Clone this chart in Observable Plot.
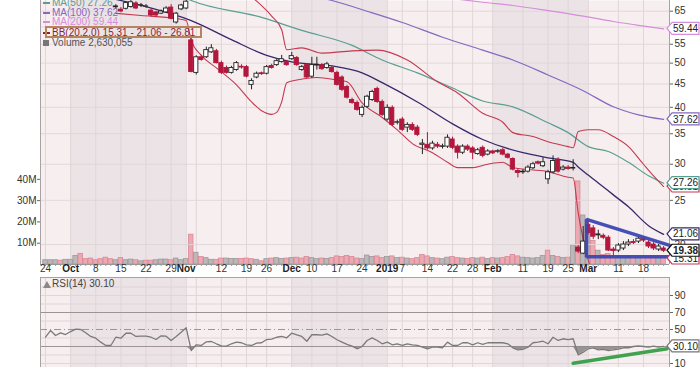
<!DOCTYPE html>
<html><head><meta charset="utf-8">
<script src="https://cdn.jsdelivr.net/npm/d3@7"></script>
<script src="https://cdn.jsdelivr.net/npm/@observablehq/plot@0.6"></script>
<style>
body{margin:0;background:#fff;}
#wrap{position:relative;width:700px;height:367px;overflow:hidden;background:#fff;font-family:"Liberation Sans",Arial,sans-serif;}
#wrap > svg{position:absolute;left:0;}
.leg{position:absolute;font-size:10px;line-height:10px;white-space:nowrap;}
.ico{position:absolute;}
</style></head><body><div id="wrap"></div><script>
// ---------- DATA ----------
const startIdx = 14; // first visible candle (trading-day index, 0 = Sep 24 2018)
const open = [66.3,65.5,65.8,66.4,67.6,66.9,66.5,65.2,64.6,64.2,
64.6,66.2,61.4,65.6,65.9,56.1,47.6,51.5,51.5,52.8,
53.1,50.0,48.8,47.6,48.3,49.1,49.0,44.8,46.5,47.5,
47.4,49.3,49.5,50.3,50.3,51.0,51.3,48.3,49.5,46.7,
49.4,49.5,48.8,48.8,47.6,46.5,44.3,41.5,40.9,38.5,
40.1,41.5,43.9,41.1,37.6,39.9,37.0,37.6,36.1,36.6,
36.1,33.1,33.1,32.5,33.1,32.75,32.8,34.0,32.8,31.8,
32.8,32.5,31.6,32.6,31.5,32.0,31.95,32.2,31.5,30.8,
29.0,28.8,28.9,29.4,30.3,29.7,27.8,28.8,30.7,29.2,
29.5,29.35,19.7,19.1,22.1,21.7,20.95,20.9,20.7,19.5,
19.4,19.6,20.0,20.25,20.3,20.55,20.2,20.0,19.5,19.6];
const high = [67.2,66.2,68.2,68.6,68.2,67.6,67.2,65.8,65.0,65.4,
66.5,67.2,64.6,67.3,68.6,56.7,51.9,52.0,54.2,54.9,
53.6,50.5,49.3,49.2,50.4,49.6,49.4,46.2,47.8,47.8,
49.4,49.7,50.9,52.0,50.7,52.8,51.7,49.4,49.9,51.5,
51.5,49.9,50.2,49.2,48.0,46.9,44.7,41.9,41.3,40.3,
42.5,43.6,44.3,41.5,40.5,40.3,37.5,38.0,37.0,37.0,
36.5,34.0,35.2,33.7,33.5,33.2,34.8,34.4,33.1,33.1,
33.1,32.8,32.5,32.9,32.3,32.2,32.3,32.5,31.7,31.0,
29.3,29.2,29.8,30.3,30.5,31.0,29.1,31.3,31.0,29.8,
29.8,30.7,19.9,21.9,22.5,22.0,21.5,21.1,20.9,19.7,
20.1,20.3,20.5,20.5,20.8,20.8,20.4,20.2,20.0,19.8];
const low = [65.6,64.5,65.4,66.0,65.5,66.2,66.0,63.2,63.0,63.9,
64.3,62.2,60.9,65.2,65.5,47.6,47.1,50.5,51.2,52.5,
49.8,47.2,47.3,47.3,48.0,48.5,46.4,43.7,46.2,47.0,
47.1,48.5,49.2,50.0,49.2,50.7,49.2,48.0,46.2,46.3,
48.3,48.2,48.5,47.5,44.5,43.3,41.7,40.6,39.2,38.0,
39.8,41.2,40.8,38.2,37.3,36.3,36.6,35.4,35.2,35.4,
34.5,31.5,32.2,32.2,32.5,32.4,32.5,32.3,30.8,31.5,
32.0,30.7,31.4,31.0,31.3,31.5,31.7,31.3,30.8,29.0,
28.0,28.5,28.7,29.2,29.9,29.5,27.1,28.6,28.7,29.0,
29.1,29.0,19.1,19.0,21.0,20.5,20.5,20.5,19.3,18.8,
19.2,19.4,19.8,20.0,20.1,20.2,19.6,19.4,19.3,19.2];
const close = [66.6,64.9,67.7,68.0,65.9,67.0,66.6,63.6,63.6,64.9,
65.9,62.6,64.2,66.9,68.2,47.8,51.5,50.8,53.4,53.9,
50.0,47.6,47.6,48.8,50.0,48.9,46.7,45.7,47.4,47.3,
49.0,48.8,50.5,51.0,49.5,51.8,49.5,49.0,46.5,49.5,
49.6,48.5,49.7,47.8,44.8,43.7,42.0,40.9,39.5,39.9,
42.2,43.2,41.1,38.5,39.9,36.6,37.1,35.7,36.6,35.7,
34.8,33.3,32.5,33.3,32.8,32.85,34.3,32.6,31.8,32.8,
32.3,31.8,32.2,31.3,32.0,31.7,32.05,31.5,31.0,29.2,
28.7,28.9,29.5,30.0,30.1,30.3,28.8,30.5,28.9,29.5,
29.3,29.45,19.3,20.3,21.2,20.8,21.05,20.7,19.4,19.35,
19.9,20.0,20.2,20.15,20.6,20.4,19.8,19.6,19.8,19.38];
// volume in millions, index 0..123
const volume = [2.0,2.0,2.0,1.8,2.2, 2.2,4.0,5.0,2.5,2.8, 2.0,2.5,3.2,2.5,2.0, 3.0,2.0,2.3,2.0,1.5,
1.8,1.8,2.0,2.3,2.3, 2.0,2.8,2.0,2.5,14.0, 5.5,3.5,3.0,2.2,2.2, 2.8,2.8,2.6,2.6,2.6,
2.8,2.5,2.2,1.5,2.5, 2.8,3.0,2.6,2.8,3.0, 3.2,2.8,3.5,3.0,2.5, 2.8,2.6,3.0,3.8,3.5,
4.0,3.5,2.8,2.5,4.2, 3.5,3.8,3.0,3.5,3.8, 3.0,3.2,2.8,2.5,3.0, 4.5,3.8,3.0,2.8,2.5,
3.2,3.5,3.0,2.8,2.6, 3.0,2.8,3.2,2.6,3.0, 2.8,3.0,3.5,4.5,3.8, 3.2,3.0,2.8,3.0,4.0,
6.5,4.0,3.5,3.0,3.2, 9.0,39,23,16,11, 6.5,4.5,5.0,3.8,3.5, 3.2,3.5,3.0,3.2,3.0,
3.5,3.0,3.2,3.5];
const earlyVolDown = [false,false,false,true,false,false,false,true,true,true,true,true,true,true,false];
// RSI(14), index 0..123
const rsi = [40.9,48.8,42.9,46.1,44.1, 47.6,50.4,50.0,46.1,41.8, 39.8,35.1,31.2,31.2,40.9,
39.8,45.6,45.6,41.8,42.1, 42.1,40.9,38.2,42.6,42.1, 37.1,41.8,46.8,52.0,25.3,
32.0,31.2,35.5,35.9,33.2, 30.8,30.4,33.2,35.1,34.4, 32.0,31.2,33.9,34.4,38.2,
38.6,40.9,41.8,40.2,45.6, 43.8,41.8,36.2,43.8,43.8, 43.3,44.9,41.8,37.9,35.1,
32.4,30.5,27.3,30.0,37.1, 40.2,37.1,33.2,35.1,32.0, 33.2,31.2,33.2,32.0,31.2,
29.2,27.3,29.2,29.2,28.5, 35.1,31.2,31.2,34.4,34.4, 32.0,34.4,32.4,34.4,34.4,
34.4,34.4,33.2,28.5,26.1, 26.5,29.2,34.4,35.1,36.2, 33.2,40.9,37.1,39.1,38.2,
39.1,20.2,23.3,27.3,28.5, 26.1,26.5,25.3,26.1,26.8, 28.5,28.5,30.0,30.8,30.0,
29.2,30.4,29.2,30.1];
const lastRsi = 30.10;
// overlays read at sample days (index, value)
const ma50Idx = [26,29,43,51,61,67,74,81,87,93,100,104,108,112,116,120,123];
const ma50Val = [71.0,68.6,63.0,59.0,54.7,50.8,47.6,44.1,41.3,40.1,37.0,35.2,32.8,32.0,30.3,28.3,27.26];
const ma100Idx = [50,57,64,71,79,87,93,100,107,113,118,123];
const ma100Val = [71.5,68.6,65.0,61.4,57.0,53.4,50.8,47.1,43.5,40.1,38.5,37.62];
const ma200Idx = [80,87,93,100,107,113,118,123];
const ma200Val = [69.5,68.0,66.9,65.2,63.4,61.7,60.5,59.44];
const bbMidIdx = [14,20,29,37,44,49,57,63,67,74,81,87,95,100,105,106,108,110,113,116,120,123];
const bbMidVal = [69.0,66.5,62.0,56.3,52.0,50.3,49.3,47.6,45.3,41.1,36.8,34.0,31.8,31.0,30.3,29.6,28.4,27.3,25.7,24.2,22.0,21.06];
const bbUpIdx = [38,42,45,47,48,51,55,61,66,72,78,82,87,91,93,97,100,104,105,106,108,110,113,116,119,121,123];
const bbUpVal = [74.0,68.4,63.4,59.2,53.5,54.0,52.6,53.2,53.4,50.8,45.5,43.0,38.8,37.1,35.2,34.5,33.6,32.8,32.6,35.4,35.7,35.7,34.5,32.8,30.0,28.3,26.81];
const bbLoIdx = [14,19,26,28,29,31,34,38,41,43,45,46,47,48,50,54,58,60,63,67,70,73,77,80,82,85,88,91,93,100,104,105,106,107,108,109,111];
const bbLoVal = [64.3,63.6,62.6,62.0,56.1,52.0,48.8,44.8,41.1,39.3,38.6,39.0,41.1,45.3,45.9,46.5,45.9,45.5,40.9,38.0,35.7,33.3,31.8,30.3,29.5,29.5,30.0,30.3,29.5,28.9,28.1,28.0,23.5,20.5,18.5,17.0,15.8];
const bbLast = [15.31, 21.06, 26.81];
const lastClose = 19.38;
// annotations (index, value)
const triIdx = [129.3, 107.66, 107.66, 129.3];
const triVal = [18.8, 18.8, 22.7, 19.12];
const greenIdx = [105.0, 123.7];
const greenVal = [10.4, 27.3];
// axis
const tickIdx = [0,5,10,15,20,25,28,35,40,44,49,53,58,63,68,71,76,81,85,89,95,100,104,108,114,119];
const tickLabels = ["24","Oct","8","15","22","29","Nov","12","19","26","Dec","10","17","24","2019","7","14","22","28","Feb","11","19","25","Mar","11","18"];
const boldLabels = ["Oct","Nov","Dec","2019","Feb","Mar"];
const gridIdx = [0,5,10,15,20,25,28,30,35,40,44,49,53,58,63,68,71,76,81,85,89,95,100,104,108,114,119];
const monthStart = [5,49,89];
const monthEnd = [28,68,108];
const priceGrid = [20,25,30,35,40,45,50,55,60,65];
const priceTicks = [20,25,30,35,40,45,50,55,65];
const volTicks = [10,20,30,40];
const rsiTicks = [10,50,70,90];
const rsiLevels = [70,30];
const legendTexts = ["MA(50) 27.26","MA(100) 37.62","MA(200) 59.44","BB(20,2.0) 15.31 - 21.06 - 26.81","Volume 2,630,055"];
const rsiTitle = "RSI(14) 30.10";

// ---------- STYLE ----------
const FONT = '"Liberation Sans", Arial, sans-serif';
const C = {bg:"#f7eef0", shade:"#ece3e6", grid:"#e0d5d8", border:"#a9a1a4", red:"#b3173c", band:"#c43a50",
  mid:"#35296b", ma50:"#5a9e91", ma100:"#8767bf", ma200:"#d68ddb", rsi:"#7a7a7a", tri:"#3b47b3", green:"#3fa24e"};
const W = 700, H1 = 277, ML = 40, MR = 31, MB = 13;
const XD = [-0.995, 124.17];
const PD = [18.08, 68.61];
const VD = [0, 124];
const RD = [5.29, 111.18];

const zip = (a, b) => a.map((i, k) => ({i, v: b[k]}));
const candles = open.map((o, k) => ({i: startIdx + k, o, h: high[k], l: low[k], c: close[k]}));
const vol = volume.map((v, i) => ({i, v, down: i <= startIdx ? earlyVolDown[i] : close[i - startIdx] < close[i - startIdx - 1]}));
const months = monthStart.map((a, k) => ({a, b: monthEnd[k]}));
const ticks = tickIdx.map((i, k) => ({i, t: tickLabels[k]}));
const rsiData = rsi.map((r, i) => ({i, r}));
const allIdx = d3.range(0, 124);
const baseStyle = {background: "transparent", fontFamily: FONT, fontSize: "10px", overflow: "visible"};

const wrap = document.getElementById("wrap");

// volume + background layer
const volPlot = Plot.plot({
  width: W, height: H1, marginLeft: ML, marginRight: MR, marginTop: 0, marginBottom: MB,
  x: {domain: XD, axis: null}, y: {domain: VD, axis: null}, style: baseStyle,
  marks: [
    Plot.frame({fill: C.bg, stroke: null}),
    Plot.rect(months, {x1: "a", x2: "b", y1: () => VD[0], y2: () => VD[1], fill: C.shade}),
    Plot.ruleX(gridIdx, {stroke: C.grid}),
    Plot.rect(vol, {x1: d => d.i - 0.45, x2: d => d.i + 0.45, y1: () => 0, y2: "v",
      fill: d => d.down ? "#eca9b2" : "#bdb7ba", stroke: d => d.down ? "#d98896" : "#9c989a", strokeWidth: 0.8}),
    Plot.axisY({anchor: "left", label: null, ticks: volTicks, tickSize: 3, tickPadding: 1, tickFormat: d => d + "M", fill: "#333", stroke: "#666"})
  ]
});
volPlot.style.top = "0px";
wrap.appendChild(volPlot);

// price layer
const lineOpts = (stroke, w) => ({x: "i", y: "v", stroke, strokeWidth: w, curve: "monotone-x", clip: true});
const pricePlot = Plot.plot({
  width: W, height: H1, marginLeft: ML, marginRight: MR, marginTop: 0, marginBottom: MB,
  x: {domain: XD, axis: null}, y: {type: "log", domain: PD, axis: null}, style: baseStyle,
  marks: [
    Plot.ruleY(priceGrid, {stroke: C.grid, strokeOpacity: 0.9}),
    Plot.line(zip(ma200Idx, ma200Val), lineOpts(C.ma200, 1.2)),
    Plot.line(zip(ma100Idx, ma100Val), lineOpts(C.ma100, 1.2)),
    Plot.line(zip(ma50Idx, ma50Val), lineOpts(C.ma50, 1.2)),
    Plot.line(zip(bbUpIdx, bbUpVal), lineOpts(C.band, 1.1)),
    Plot.line(zip(bbLoIdx, bbLoVal), lineOpts(C.band, 1.1)),
    Plot.line(zip(bbMidIdx, bbMidVal), lineOpts(C.mid, 1.3)),
    Plot.ruleX(candles, {x: "i", y1: "l", y2: "h", stroke: d => d.c < d.o ? C.red : "#222", strokeWidth: 1, clip: true}),
    Plot.rect(candles, {x1: d => d.i - 0.42, x2: d => d.i + 0.42, y1: "o", y2: "c",
      fill: d => d.c < d.o ? C.red : "#fff", stroke: d => d.c < d.o ? C.red : "#222", strokeWidth: 0.9, clip: true}),
    Plot.ruleX([XD[0], XD[1]], {stroke: C.border}),
    Plot.ruleY([PD[0]], {stroke: "#999"}),
    Plot.line(zip(triIdx, triVal), {x: "i", y: "v", stroke: C.tri, strokeWidth: 3.5, strokeLinejoin: "miter", strokeOpacity: 0.95}),
    Plot.axisY({anchor: "right", label: null, ticks: priceTicks, tickSize: 3, tickPadding: 2, tickFormat: d => d, fill: "#333", stroke: "#666"}),
    Plot.axisX({label: null, ticks: allIdx, tickSize: 2, tickFormat: () => "", stroke: "#999"}),
    Plot.text(ticks.filter(d => !boldLabels.includes(d.t)), {x: "i", text: "t", frameAnchor: "bottom", dy: 7, fill: "#333", fontSize: 10}),
    Plot.text(ticks.filter(d => boldLabels.includes(d.t)), {x: "i", text: "t", frameAnchor: "bottom", dy: 7, fill: "#222", fontSize: 10, fontWeight: "bold"})
  ]
});
pricePlot.style.top = "0px";
wrap.appendChild(pricePlot);

// RSI panel
const rsiPlot = Plot.plot({
  width: W, height: 90, marginLeft: ML, marginRight: MR, marginTop: 0, marginBottom: 0,
  x: {domain: XD, axis: null}, y: {domain: RD, axis: null}, style: baseStyle,
  marks: [
    Plot.frame({fill: C.bg, stroke: null}),
    Plot.rect(months, {x1: "a", x2: "b", y1: () => RD[0], y2: () => RD[1], fill: C.shade}),
    Plot.ruleX(gridIdx, {stroke: C.grid}),
    Plot.ruleY([10, 20, 40, 60, 80, 90, 100], {stroke: C.grid}),
    Plot.ruleY(rsiLevels, {stroke: "#9b9496"}),
    Plot.ruleY([50], {stroke: "#9b9496", strokeDasharray: "7,3,1,3"}),
    Plot.areaY(rsiData, {x: "i", y1: () => 30, y2: d => Math.min(d.r, 30), fill: "#8e888a", fillOpacity: 0.9}),
    Plot.line(rsiData, {x: "i", y: "r", stroke: C.rsi, strokeWidth: 1.3}),
    Plot.line(zip(greenIdx, greenVal), {x: "i", y: "v", stroke: C.green, strokeWidth: 3.5}),
    Plot.ruleX([XD[0], XD[1]], {stroke: C.border}),
    Plot.ruleY([RD[1]], {stroke: C.border}),
    Plot.axisY({anchor: "right", label: null, ticks: rsiTicks, tickSize: 3, tickPadding: 2, fill: "#333", stroke: "#666"})
  ]
});
rsiPlot.style.top = "277px";
wrap.appendChild(rsiPlot);

// value tags on the right axes, placed with each plot's own y scale
function drawTags(scale, tags, top, h, maxY) {
  const s = d3.create("svg").attr("width", W).attr("height", h).style("top", top + "px").style("position", "absolute").style("left", "0px");
  for (const t of tags) {
    const y = Math.min(scale.apply(t.v), maxY);
    s.append("path").attr("d", `M667,${y}L672,${y - 6}L699,${y - 6}L699,${y + 6}L672,${y + 6}Z`)
      .attr("fill", "#fff").attr("stroke", t.color).attr("stroke-width", 1.2);
    s.append("text").attr("x", 673).attr("y", y + 3.6).attr("font-family", FONT).attr("font-size", 10)
      .attr("font-weight", t.bold ? "bold" : "normal").attr("fill", "#222").text(t.v.toFixed(2));
  }
  wrap.appendChild(s.node());
}
drawTags(pricePlot.scale("y"), [
  {v: ma200Val[ma200Val.length - 1], color: C.ma200},
  {v: ma100Val[ma100Val.length - 1], color: C.ma100},
  {v: bbLast[2], color: C.band},
  {v: ma50Val[ma50Val.length - 1], color: C.ma50},
  {v: bbLast[1], color: C.mid},
  {v: bbLast[0], color: C.band},
  {v: lastClose, color: "#111", bold: true}
], 0, H1, 258);
drawTags(rsiPlot.scale("y"), [{v: lastRsi, color: "#777"}], 277, 90, 90);

// legend
const legColors = [C.ma50, C.ma100, C.ma200, "#8e1f38", "#555"];
const legY = [3, 12.7, 22.3, 32.7, 42.7];
legendTexts.forEach((t, k) => {
  const d = document.createElement("div");
  d.className = "leg"; d.textContent = t; d.style.left = "52px"; d.style.top = (legY[k] - 5) + "px"; d.style.color = legColors[k];
  wrap.appendChild(d);
  const ic = document.createElement("div");
  ic.className = "ico"; ic.style.left = "43px"; ic.style.width = k === 4 ? "6px" : "7px";
  ic.style.height = k === 4 ? "6px" : "2px"; ic.style.top = (legY[k] - (k === 4 ? 3 : 1)) + "px";
  ic.style.background = k === 4 ? "#777" : legColors[k];
  wrap.appendChild(ic);
});
const box = document.createElement("div");
box.style.cssText = "position:absolute;left:45px;top:26px;width:153px;height:8px;border:2.5px solid #b5855e;";
wrap.appendChild(box);
const rt = document.createElement("div");
rt.className = "leg"; rt.style.left = "52px"; rt.style.top = "279px"; rt.style.color = "#444"; rt.textContent = rsiTitle;
wrap.appendChild(rt);
const ri = document.createElement("div");
ri.style.cssText = "position:absolute;left:43px;top:281px;width:0;height:0;border-left:4px solid transparent;border-right:4px solid transparent;border-bottom:7px solid #888;";
wrap.appendChild(ri);
</script></body></html>
